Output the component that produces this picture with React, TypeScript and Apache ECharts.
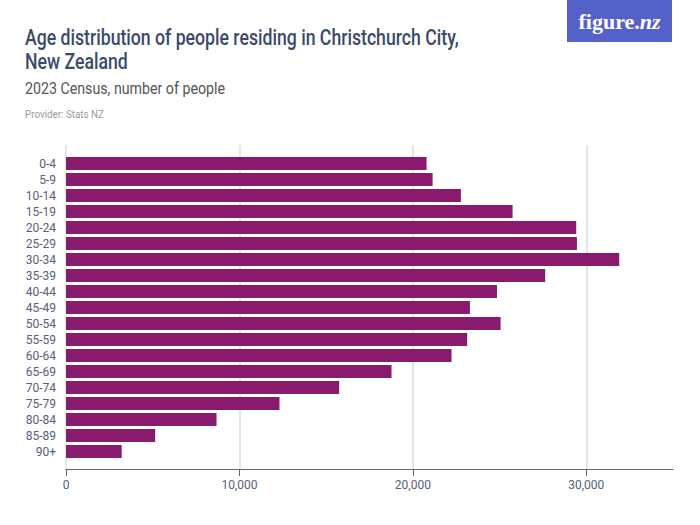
import React, { useEffect, useRef } from "react";
import * as echarts from "echarts";

// Age groups (five-year bands) and the number of people in each
const ageGroups = [
  "0-4", "5-9", "10-14", "15-19", "20-24", "25-29", "30-34", "35-39", "40-44",
  "45-49", "50-54", "55-59", "60-64", "65-69", "70-74", "75-79", "80-84", "85-89", "90+",
];
const population = [
  20790, 21140, 22770, 25750, 29420, 29460, 31900, 27630, 24850,
  23290, 25060, 23130, 22230, 18770, 15750, 12310, 8680, 5140, 3210,
];
const xTicks = [0, 10000, 20000, 30000];
const xMax = 35000;

const titleLines = [
  "Age distribution of people residing in Christchurch City,",
  "New Zealand",
];
const subtitle = "2023 Census, number of people";
const provider = "Provider: Stats NZ";

const BAR_COLOR = "#891a6d";
const LABEL_COLOR = "#56607d";
const FONT = "Roboto, 'Noto Sans', sans-serif";

// Horizontal squeeze needed for a string to fill a given width
function fitScale(text: string, font: string, width: number): number {
  const ctx = document.createElement("canvas").getContext("2d");
  if (!ctx) return 1;
  ctx.font = font;
  const w = ctx.measureText(text).width;
  return w > 0 ? width / w : 1;
}

export default function App() {
  const ref = useRef<HTMLDivElement>(null);

  useEffect(() => {
    document.body.style.margin = "0";
    if (!ref.current) return;
    const chart = echarts.init(ref.current, null, { renderer: "svg" });

    const titleFont = `500 22px Roboto`;
    const subFont = `400 16px Roboto`;
    const provFont = `400 11px Roboto`;
    const titleScale = fitScale(titleLines[0], titleFont, 434);
    const subScale = fitScale(subtitle, subFont, 200);
    const provScale = fitScale(provider, provFont, 79);

    const plotLeft = 66;
    const plotWidth = 607;

    chart.setOption({
      animation: false,
      backgroundColor: "#ffffff",
      graphic: [
        {
          type: "text",
          x: 25,
          y: 37.5,
          scaleX: titleScale,
          style: {
            text: titleLines[0],
            fontFamily: "Roboto",
            fontWeight: 500,
            fontSize: 22,
            fill: "#3a4a6b",
            verticalAlign: "middle",
          },
        },
        {
          type: "text",
          x: 25,
          y: 61.5,
          scaleX: titleScale,
          style: {
            text: titleLines[1],
            fontFamily: "Roboto",
            fontWeight: 500,
            fontSize: 22,
            fill: "#3a4a6b",
            verticalAlign: "middle",
          },
        },
        {
          type: "text",
          x: 25,
          y: 88.5,
          scaleX: subScale,
          style: {
            text: subtitle,
            fontFamily: "Roboto",
            fontSize: 16,
            fill: "#555555",
            verticalAlign: "middle",
          },
        },
        {
          type: "text",
          x: 25,
          y: 114.5,
          scaleX: provScale,
          style: {
            text: provider,
            fontFamily: "Roboto",
            fontSize: 11,
            fill: "#9a9a9a",
            verticalAlign: "middle",
          },
        },
        {
          type: "rect",
          shape: { x: 567, y: 0, width: 105, height: 42 },
          style: { fill: "#5461c8" },
        },
        {
          type: "text",
          x: 619.5,
          y: 21,
          style: {
            text: "{a|figure.}{b|nz}",
            align: "center",
            verticalAlign: "middle",
            rich: {
              a: {
                fontFamily: "'Liberation Serif', serif",
                fontWeight: "bold",
                fontSize: 22,
                fill: "#ffffff",
              },
              b: {
                fontFamily: "'Liberation Serif', serif",
                fontStyle: "italic",
                fontWeight: "bold",
                fontSize: 22,
                fill: "#ffffff",
              },
            },
          },
        },
      ],
      grid: [
        // frame for gridlines and the value axis
        { left: plotLeft, top: 145, width: plotWidth, height: 324, containLabel: false },
        // band area for the bars
        { left: plotLeft, top: 155.5, width: plotWidth, height: 304, containLabel: false },
      ],
      xAxis: [
        {
          gridIndex: 0,
          type: "value",
          min: 0,
          max: xMax,
          interval: 10000,
          axisLine: { show: true, onZero: false, lineStyle: { color: "#666666", width: 1 } },
          axisTick: {
            show: true,
            length: 7,
            customValues: xTicks,
            lineStyle: { color: "#666666", width: 1 },
          },
          axisLabel: {
            customValues: xTicks,
            margin: 10,
            color: LABEL_COLOR,
            fontFamily: FONT,
            fontSize: 12,
            formatter: (v: number) => v.toLocaleString("en-US"),
          },
          splitLine: {
            show: true,
            lineStyle: { color: "#dedede", width: 1.5 },
          },
        },
        {
          gridIndex: 1,
          type: "value",
          min: 0,
          max: xMax,
          show: false,
        },
      ],
      yAxis: [
        { gridIndex: 0, type: "value", min: 0, max: 1, show: false },
        {
          gridIndex: 1,
          type: "category",
          data: ageGroups,
          inverse: true,
          axisLine: { show: false },
          axisTick: { show: false },
          splitLine: { show: false },
          axisLabel: {
            margin: 10,
            color: LABEL_COLOR,
            fontFamily: FONT,
            fontSize: 12,
          },
        },
      ],
      series: [
        {
          type: "bar",
          xAxisIndex: 1,
          yAxisIndex: 1,
          data: population,
          barWidth: 13,
          itemStyle: { color: BAR_COLOR },
        },
      ],
    });

    return () => chart.dispose();
  }, []);

  return <div ref={ref} style={{ width: 700, height: 525 }} />;
}
